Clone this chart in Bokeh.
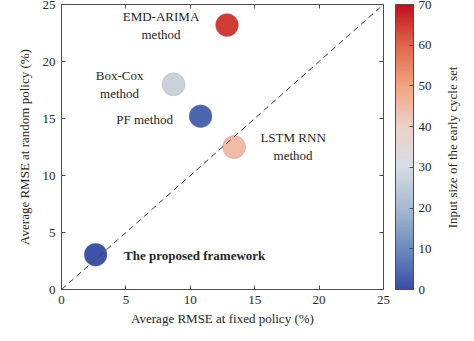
import math
from bokeh.plotting import figure
from bokeh.layouts import row
from bokeh.models import (ColumnDataSource, LinearColorMapper, ColorBar, LinearAxis,
                          Range1d, FixedTicker, Slope)
from bokeh.embed import file_html
from bokeh.resources import INLINE
from bokeh.core.properties import value

# ---- data ----
methods = ["The proposed framework", "PF\u00a0method", "Box-Cox\nmethod", "LSTM RNN\nmethod", "EMD-ARIMA\nmethod"]
rmse_fixed = [2.65, 10.8, 8.7, 13.4, 12.85]
rmse_random = [3.05, 15.2, 18.0, 12.5, 23.2]
input_size = [1, 4, 27, 45, 65]
label_dx = [99, -56, -54, 59, -66]   # label offsets (px) - style
label_dy = [1, 3, 0, -1, 0]
label_weight = ["bold", "normal", "normal", "normal", "normal"]
axis_ticks = [0, 5, 10, 15, 20, 25]
cbar_ticks = [0, 10, 20, 30, 40, 50, 60, 70]
cbar_title = ["Input size of the early cycle set"]

# ---- palette (blue-white-red) ----
anchors = [(0.0, (58, 77, 166)), (0.14, (107, 139, 190)), (0.29, (169, 187, 208)),
           (0.43, (216, 220, 227)), (0.57, (235, 210, 203)), (0.71, (244, 165, 130)),
           (0.86, (224, 101, 74)), (1.0, (192, 16, 30))]
palette = []
for i in range(256):
    t = i / 255
    for (t0, c0), (t1, c1) in zip(anchors[:-1], anchors[1:]):
        if t0 <= t <= t1:
            f = (t - t0) / (t1 - t0)
            c = tuple(int(round(a + (b - a) * f)) for a, b in zip(c0, c1))
            palette.append("#%02x%02x%02x" % c)
            break

mapper = LinearColorMapper(palette=palette, low=0, high=70)

src = ColumnDataSource(dict(x=rmse_fixed, y=rmse_random, v=input_size, name=methods,
                            dx=label_dx, dy=label_dy, fw=label_weight))

FONT = "Liberation Serif"
TXT = "#262626"
AX = "#4d4d4d"

p = figure(width=441, height=341, output_backend="svg", toolbar_location=None,
           x_range=Range1d(0, 25), y_range=Range1d(0, 25),
           min_border_left=61, min_border_right=58, min_border_top=4, min_border_bottom=52)
p.xgrid.visible = False
p.ygrid.visible = False
p.outline_line_color = AX
p.background_fill_color = "white"

for ax in (p.xaxis[0], p.yaxis[0]):
    ax.ticker = FixedTicker(ticks=axis_ticks)
    ax.major_tick_in = 4
    ax.major_tick_out = 0
    ax.minor_tick_line_color = None
    ax.axis_line_color = AX
    ax.major_tick_line_color = AX
    ax.major_label_text_font = FONT
    ax.major_label_text_font_size = "13px"
    ax.major_label_text_color = TXT
    ax.axis_label_text_font = FONT
    ax.axis_label_text_font_size = "13px"
    ax.axis_label_text_font_style = "normal"
    ax.axis_label_text_color = TXT
    ax.major_label_standoff = 6
p.xaxis[0].axis_label = "Average RMSE at fixed policy (%)"
p.yaxis[0].axis_label = "Average RMSE at random policy (%)"
p.xaxis[0].axis_label_standoff = 4
p.yaxis[0].axis_label_standoff = 8

for side in ("above", "right"):
    a = LinearAxis(ticker=FixedTicker(ticks=axis_ticks), major_tick_in=4, major_tick_out=0,
                   major_label_overrides={t: "" for t in axis_ticks},
                   major_label_standoff=0,
                   minor_tick_line_color=None, axis_line_color=None, major_tick_line_color=AX)
    p.add_layout(a, side)

p.add_layout(Slope(gradient=1, y_intercept=0, line_color="#404040", line_dash="6 4", line_width=1))

p.scatter("x", "y", source=src, size=23, fill_color={"field": "v", "transform": mapper},
          line_color="#9a9a9a", line_width=0.6, line_alpha=0.5)

p.text("x", "y", text="name", source=src, x_offset="dx", y_offset="dy",
       text_font=value(FONT), text_font_size="13px", text_color=TXT,
       text_align="center", text_baseline="middle", text_font_style="fw", text_line_height=1.2)

cb = ColorBar(color_mapper=mapper, ticker=FixedTicker(ticks=cbar_ticks), width=18,
              margin=0, padding=0, location=(12, 0), major_tick_in=4, major_tick_out=0,
              major_tick_line_color=AX, bar_line_color=AX,
              major_label_text_font=FONT, major_label_text_font_size="13px",
              major_label_text_color=TXT, label_standoff=5, background_fill_alpha=0,
              border_line_color=None)
p.add_layout(cb, "right")

# narrow companion figure holding the colour-bar title (reads bottom to top)
p2 = figure(width=33, height=341, output_backend="svg", toolbar_location=None,
            x_range=Range1d(0, 33), y_range=Range1d(0, 341),
            min_border_left=0, min_border_right=0, min_border_top=0, min_border_bottom=0)
p2.axis.visible = False
p2.xgrid.visible = False
p2.ygrid.visible = False
p2.outline_line_color = None
p2.text(x=[11], y=[170], text=cbar_title, angle=math.pi / 2,
        text_font=value(FONT), text_font_size="13px", text_color=TXT,
        text_align="center", text_baseline="middle")

open("out.html", "w").write(file_html(row(p, p2, spacing=0), INLINE))
